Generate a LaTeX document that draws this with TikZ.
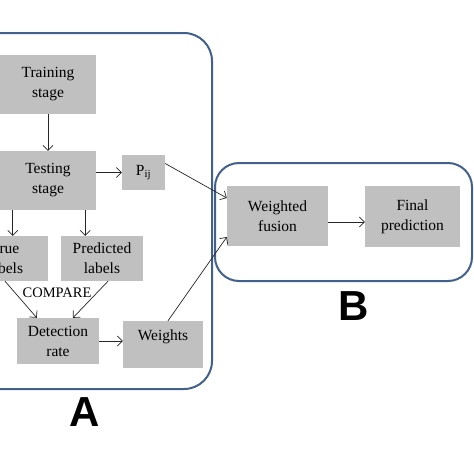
\documentclass[tikz,border=0pt]{standalone}
\usepackage{fontspec}
\setmainfont{Liberation Serif}
\newfontfamily\labfont{Liberation Sans}
\usetikzlibrary{positioning, arrows.meta}
\definecolor{boxgray}{HTML}{C0C0C0}
\definecolor{grpblue}{HTML}{41608C}

\begin{document}
\begin{tikzpicture}[x=1pt, y=-1pt,
    stage/.style={fill=boxgray, inner sep=0pt, align=center,
                  font=\fontsize{15.5}{20}\selectfont},
    group/.style={draw=grpblue, line width=2pt, rounded corners=28pt},
    arr/.style={-{Straight Barb[length=5pt, width=10pt]}, line width=0.7pt, black!85},
    note/.style={font=\fontsize{14.5}{16}\selectfont},
    bigmark/.style={font=\labfont\bfseries\fontsize{42}{42}\selectfont},
]
\clip (0,0) rectangle (474,474);

% the two stages
\draw[group] (-40,33) rectangle (212,389);
\draw[group, rounded corners=24pt] (215,163) rectangle (472,281);

\node[stage, minimum width=96pt, minimum height=59pt] (training) at (48,84.5) {Training\\stage};
\node[stage, minimum width=96pt, minimum height=59pt] (testing) at (48,180.5) {Testing\\stage};
\node[stage, minimum width=43pt, minimum height=35pt] (pij) at (143.5,172.5) {P\textsubscript{ij}};
\node[stage, minimum width=86pt, minimum height=45pt] (truelab) at (5,258.5) {True\\labels};
\node[stage, minimum width=82pt, minimum height=45pt] (predlab) at (102,258.5) {Predicted\\labels};
\node[stage, minimum width=82pt, minimum height=46pt] (detect) at (58,341) {Detection\\rate};
\node[stage, minimum width=80pt, minimum height=47pt, text depth=18pt] (weights) at (163,344.5) {Weights};
\node[stage, minimum width=101pt, minimum height=60pt] (fusion) at (277.5,216) {Weighted\\fusion};
\node[stage, minimum width=95pt, minimum height=61pt] (final) at (412.5,216.5) {Final\\prediction};

\node[note] (compare) at (57,293) {COMPARE};

\draw[arr] (training) -- (testing);
\draw[arr] (testing.east |- pij.west) -- (pij.west);
\draw[arr] ([xshift=13pt]testing.south west) -- ([xshift=13pt]testing.south west |- truelab.north);
\draw[arr] ([xshift=-11pt]testing.south east) -- ([xshift=-11pt]testing.south east |- predlab.north);
\draw[arr] (truelab.south) -- ([xshift=20pt]detect.north west);
\draw[arr] ([xshift=6pt]predlab.south) -- ([xshift=15pt]detect.north);
\draw[arr] (detect.east) -- (detect.east -| weights.west);
\draw[arr] ([yshift=9pt]pij.east) -- ([yshift=18pt]fusion.west);
\draw[arr] ([xshift=5pt]weights.north) -- ([yshift=-21pt]fusion.west);
\draw[arr] ([yshift=-6pt]fusion.east) -- ([yshift=-6pt]fusion.east -| final.west);

\node[bigmark] (markA) at (85,412) {A};
\node[bigmark] (markB) at (354,306) {B};
\end{tikzpicture}
\end{document}
